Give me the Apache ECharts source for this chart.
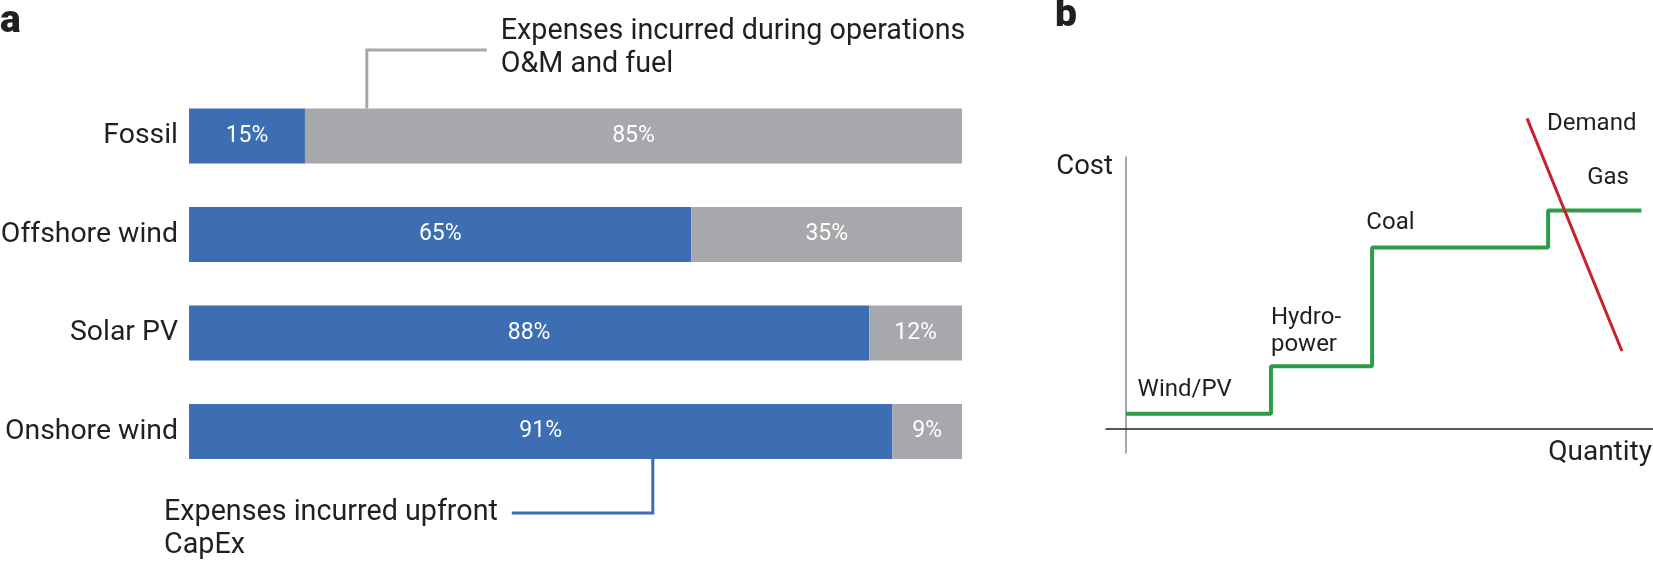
<!DOCTYPE html>
<html>
<head>
<meta charset="utf-8">
<script src="https://cdn.jsdelivr.net/npm/echarts@6/dist/echarts.min.js"></script>
<style>
html,body{margin:0;padding:0;background:#fff;}
#chart{width:1653px;height:562px;}
</style>
</head>
<body>
<div id="chart"></div>
<script>
// Panel a data
const categories = ['Fossil', 'Offshore wind', 'Solar PV', 'Onshore wind'];
const capex = [15, 65, 88, 91];
const opex = [85, 35, 12, 9];
const opexCallout = ['Expenses incurred during operations', 'O&M and fuel'];
const capexCallout = ['Expenses incurred upfront', 'CapEx'];
const opexLeaderValue = 23;   // position on Fossil bar where grey leader starts
const capexLeaderValue = 60;  // position on Onshore wind bar where blue leader starts

// Panel b data (schematic merit order)
const supplyQuantity = [0, 27.5, 46.7, 80.1, 97.8];
const supplyCost = [5.6, 23.1, 66.7, 80.3, 80.3];
const demandQuantity = [76.1, 94.1];
const demandCost = [114.2, 28.7];
const bLabelNames = ['Wind/PV', 'Hydro-\npower', 'Coal', 'Demand', 'Gas'];
const bLabelQuantity = [2.2, 27.5, 45.6, 79.9, 87.5];
const bLabelCost = [14.3, 36, 75.7, 112.3, 92.3];

const BLUE = '#3d6db3', GREY = '#a7a8ab', TEXT = '#231f20';
const GREEN = '#2e9b48', RED = '#c8202e';
const FONT = 'Roboto';

const chart = echarts.init(document.getElementById('chart'));

const option = {
  backgroundColor: '#fff',
  animation: false,
  textStyle: { fontFamily: FONT },
  grid: [
    { left: 189, width: 773, top: 86.75, height: 394, containLabel: false, outerBoundsMode: 'none' },
    { left: 1106, width: 547, top: 157, height: 296, containLabel: false, outerBoundsMode: 'none' }
  ],
  xAxis: [
    { gridIndex: 0, type: 'value', min: 0, max: 100, show: false },
    {
      gridIndex: 1, type: 'value', min: -3.8, max: 100,
      axisLine: { show: true, onZero: true, lineStyle: { color: TEXT, width: 1.5 } },
      axisTick: { show: false }, axisLabel: { show: false }, splitLine: { show: false },
      name: 'Quantity', nameLocation: 'end', nameGap: -1,
      nameTextStyle: { fontSize: 28, color: TEXT, fontFamily: FONT, align: 'right', verticalAlign: 'top', padding: [10, 0, 0, 0] }
    }
  ],
  yAxis: [
    {
      gridIndex: 0, type: 'category', data: categories, inverse: true,
      axisLine: { show: false }, axisTick: { show: false }, splitLine: { show: false },
      axisLabel: { fontSize: 28.4, color: TEXT, margin: 11, fontFamily: FONT }
    },
    {
      gridIndex: 1, type: 'value', min: -8.82, max: 100,
      axisLine: { show: true, onZero: true, lineStyle: { color: '#8a8a8a', width: 1.5 } },
      axisTick: { show: false }, axisLabel: { show: false }, splitLine: { show: false },
      name: 'Cost', nameLocation: 'end', nameGap: -10,
      nameTextStyle: { fontSize: 27.5, color: TEXT, fontFamily: FONT, align: 'right', verticalAlign: 'middle', padding: [0, 13, 0, 0] }
    }
  ],
  series: [
    {
      name: 'CapEx', type: 'bar', xAxisIndex: 0, yAxisIndex: 0, stack: 'cost',
      data: capex, barWidth: 55, itemStyle: { color: BLUE },
      label: { show: true, position: 'inside', color: '#fff', fontSize: 23, fontFamily: FONT, formatter: '{c}%' }
    },
    {
      name: 'O&M and fuel', type: 'bar', xAxisIndex: 0, yAxisIndex: 0, stack: 'cost',
      data: opex, barWidth: 55, itemStyle: { color: GREY },
      label: { show: true, position: 'inside', color: '#fff', fontSize: 23, fontFamily: FONT, formatter: '{c}%' }
    },
    {
      name: 'Supply', type: 'line', xAxisIndex: 1, yAxisIndex: 1, step: 'end',
      data: supplyQuantity.map((q, i) => [q, supplyCost[i]]),
      symbol: 'none', lineStyle: { color: GREEN, width: 4 }, clip: false
    },
    {
      name: 'Demand', type: 'line', xAxisIndex: 1, yAxisIndex: 1,
      data: demandQuantity.map((q, i) => [q, demandCost[i]]),
      symbol: 'none', lineStyle: { color: RED, width: 3 }, clip: false
    },
    {
      name: 'labels', type: 'scatter', xAxisIndex: 1, yAxisIndex: 1, clip: false,
      symbolSize: 0, silent: true, itemStyle: { opacity: 1 },
      data: bLabelNames.map((n, i) => ({ value: [bLabelQuantity[i], bLabelCost[i]], name: n })),
      label: {
        show: true, position: 'right', distance: 0, formatter: '{b}', opacity: 1,
        fontSize: 24, lineHeight: 27, color: TEXT, fontFamily: FONT
      }
    }
  ]
};
chart.setOption(option);

// Callouts anchored on the bars
const bandHalf = 27.5;
const pG = chart.convertToPixel({ gridIndex: 0 }, [opexLeaderValue, categories[0]]);
const pB = chart.convertToPixel({ gridIndex: 0 }, [capexLeaderValue, categories[3]]);
const gTop = pG[1] - bandHalf, gElbow = gTop - 58.5;
const bBot = pB[1] + bandHalf, bElbow = bBot + 54;

chart.setOption({
  graphic: [
    { type: 'text', left: 0, top: 3, style: { text: 'a', fontSize: 39, fontWeight: 900, fontFamily: FONT, fill: TEXT } },
    { type: 'text', left: 1055, top: -3, style: { text: 'b', fontSize: 39, fontWeight: 900, fontFamily: FONT, fill: TEXT } },
    {
      type: 'polyline', silent: true,
      shape: { points: [[pG[0], gTop], [pG[0], gElbow], [pG[0] + 120, gElbow]] },
      style: { stroke: GREY, lineWidth: 3, fill: null }
    },
    {
      type: 'text', x: pG[0] + 134, y: gElbow - 34.5,
      style: { text: opexCallout.join('\n'), fontSize: 28.7, lineHeight: 33, fontFamily: FONT, fill: TEXT, align: 'left', verticalAlign: 'top' }
    },
    {
      type: 'polyline', silent: true,
      shape: { points: [[pB[0], bBot], [pB[0], bElbow], [pB[0] - 141, bElbow]] },
      style: { stroke: BLUE, lineWidth: 3, fill: null }
    },
    {
      type: 'text', x: 164, y: bElbow - 16.5,
      style: { text: capexCallout.join('\n'), fontSize: 28.7, lineHeight: 33, fontFamily: FONT, fill: TEXT, align: 'left', verticalAlign: 'top' }
    }
  ]
});
</script>
</body>
</html>
